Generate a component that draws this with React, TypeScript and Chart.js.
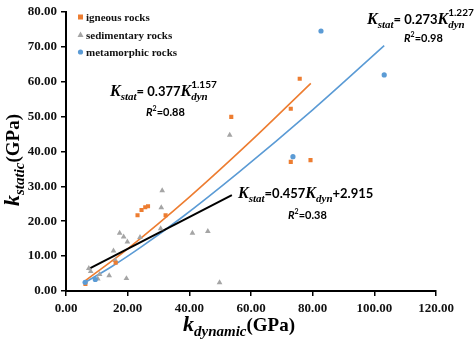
import React, { useEffect, useRef } from "react";
import { Chart, registerables } from "chart.js";

Chart.register(...registerables);

// Measured bulk moduli (GPa): dynamic on x, static on y
const igneousX = [6.3, 16.1, 23.2, 24.5, 25.7, 26.6, 32.3, 53.6, 72.9, 72.9, 75.8, 79.3];
const igneousY = [2.0, 8.1, 21.7, 23.2, 24.0, 24.3, 21.7, 49.9, 52.2, 37.0, 60.8, 37.5];

const sedimentaryX = [7.4, 8.0, 10.3, 10.9, 14.0, 15.4, 16.0, 17.4, 18.7, 19.9, 19.6, 24.0, 30.7, 30.9, 31.2, 41.0, 46.0, 49.8, 53.1];
const sedimentaryY = [6.5, 5.6, 3.5, 4.8, 4.4, 11.5, 8.8, 16.6, 15.5, 14.1, 3.6, 15.4, 17.9, 23.9, 28.8, 16.6, 17.1, 2.4, 44.7];

const metamorphicX = [6.2, 9.5, 73.6, 82.7, 103.2];
const metamorphicY = [2.5, 3.3, 38.5, 74.5, 61.9];

// Fitted trend lines
const igneousFitX = [6.3, 20, 40, 60, 79.4];
const igneousFitY = [3.0, 12.1, 26.9, 43.0, 59.5];
const metamorphicFitX = [6, 15, 25, 37, 56, 80, 103.2];
const metamorphicFitY = [2.4, 7.1, 13.0, 20.7, 34.0, 51.9, 70.3];
const sedimentaryFitX = [7.1, 53.8];
const sedimentaryFitY = [6.2, 27.5];

const xTicks = [0, 20, 40, 60, 80, 100, 120];
const yTicks = [0, 10, 20, 30, 40, 50, 60, 70, 80];

const ORANGE = "#ED7D31";
const GRAY = "#A5A5A5";
const BLUE = "#5B9BD5";

const pts = (xs: number[], ys: number[]) => xs.map((x, i) => ({ x, y: ys[i] }));

type Seg = { t: string; f: string; dy?: number; stack?: boolean };

function drawRich(ctx: CanvasRenderingContext2D, x: number, y: number, segs: Seg[]) {
  let cx = x;
  let pending = 0;
  for (const s of segs) {
    ctx.font = s.f;
    ctx.fillText(s.t, cx, y + (s.dy || 0));
    const w = ctx.measureText(s.t).width;
    if (s.stack) {
      pending = Math.max(pending, w);
    } else {
      cx += Math.max(pending, w);
      pending = 0;
    }
  }
  return cx - x;
}

const SERIF = "'Liberation Serif', serif";
const SANS = "Lato, 'Open Sans', sans-serif";
const KFONT = `italic bold 16px ${SERIF}`;
const KSUB = `italic bold 11px ${SERIF}`;
const NUM = `bold 13px ${SANS}`;
const SUP = `bold 10px ${SANS}`;
const RFONT = `italic bold 11px ${SANS}`;
const R2FONT = `bold 7px ${SANS}`;
const RNUM = `bold 11px ${SANS}`;

const annotations = {
  id: "annotations",
  afterDraw(chart: Chart) {
    const ctx = chart.ctx;
    ctx.save();
    ctx.fillStyle = "#000";
    ctx.textBaseline = "alphabetic";
    ctx.textAlign = "left";

    // legend
    const legend = [
      { label: "igneous rocks", color: ORANGE, shape: "rect" },
      { label: "sedimentary rocks", color: GRAY, shape: "tri" },
      { label: "metamorphic rocks", color: BLUE, shape: "circle" },
    ];
    legend.forEach((it, i) => {
      const cy = 17 + i * 17.5;
      ctx.fillStyle = it.color;
      if (it.shape === "rect") ctx.fillRect(78, cy - 2.5, 5, 5);
      else if (it.shape === "tri") {
        ctx.beginPath();
        ctx.moveTo(80.5, cy - 3);
        ctx.lineTo(83.5, cy + 2.5);
        ctx.lineTo(77.5, cy + 2.5);
        ctx.closePath();
        ctx.fill();
      } else {
        ctx.beginPath();
        ctx.arc(80.5, cy, 2.6, 0, Math.PI * 2);
        ctx.fill();
      }
      ctx.fillStyle = "#111";
      ctx.font = `bold 11px ${SERIF}`;
      ctx.fillText(it.label, 86, cy + 4);
    });

    // fit equations
    ctx.fillStyle = "#000";
    drawRich(ctx, 110, 96, [
      { t: "K", f: KFONT },
      { t: "stat", f: KSUB, dy: 4 },
      { t: "= 0.377", f: NUM },
      { t: "K", f: KFONT },
      { t: "1.157", f: SUP, dy: -8, stack: true },
      { t: "dyn", f: KSUB, dy: 4 },
    ]);
    drawRich(ctx, 146, 116, [
      { t: "R", f: RFONT },
      { t: "2", f: R2FONT, dy: -5 },
      { t: "=0.88", f: RNUM },
    ]);

    drawRich(ctx, 367, 24, [
      { t: "K", f: KFONT },
      { t: "stat", f: KSUB, dy: 4 },
      { t: "= 0.273", f: NUM },
      { t: "K", f: KFONT },
      { t: "1.227", f: SUP, dy: -8, stack: true },
      { t: "dyn", f: KSUB, dy: 4 },
    ]);
    drawRich(ctx, 404, 42, [
      { t: "R", f: RFONT },
      { t: "2", f: R2FONT, dy: -5 },
      { t: "=0.98", f: RNUM },
    ]);

    drawRich(ctx, 238, 198, [
      { t: "K", f: KFONT },
      { t: "stat", f: KSUB, dy: 4 },
      { t: "=0.457", f: NUM },
      { t: "K", f: KFONT },
      { t: "dyn", f: KSUB, dy: 4 },
      { t: "+2.915", f: NUM },
    ]);
    drawRich(ctx, 288, 219, [
      { t: "R", f: RFONT },
      { t: "2", f: R2FONT, dy: -5 },
      { t: "=0.38", f: RNUM },
    ]);

    // axis titles
    drawRich(ctx, 183, 331, [
      { t: "k", f: `italic bold 22px ${SERIF}` },
      { t: "dynamic", f: `italic bold 15px ${SERIF}`, dy: 5 },
      { t: "(GPa)", f: `bold 19px ${SERIF}` },
    ]);
    ctx.translate(19, 206);
    ctx.rotate(-Math.PI / 2);
    drawRich(ctx, 0, 0, [
      { t: "k", f: `italic bold 22px ${SERIF}` },
      { t: "static", f: `italic bold 15px ${SERIF}`, dy: 5 },
      { t: "(GPa)", f: `bold 19px ${SERIF}` },
    ]);
    ctx.restore();
  },
};

export default function App() {
  const ref = useRef<HTMLCanvasElement>(null);

  useEffect(() => {
    document.body.style.margin = "0";
    const canvas = ref.current!;
    const tickFont = { family: "'Liberation Serif', serif", weight: "bold" as const, size: 13 };
    const chart = new Chart(canvas, {
      type: "scatter",
      data: {
        datasets: [
          {
            label: "igneous rocks",
            data: pts(igneousX, igneousY),
            pointStyle: "rect",
            pointRadius: 2.9,
            backgroundColor: ORANGE,
            borderWidth: 0,
            order: 1,
          },
          {
            label: "sedimentary rocks",
            data: pts(sedimentaryX, sedimentaryY),
            pointStyle: "triangle",
            pointRadius: 3.3,
            backgroundColor: GRAY,
            borderWidth: 0,
            order: 2,
          },
          {
            label: "metamorphic rocks",
            data: pts(metamorphicX, metamorphicY),
            pointStyle: "circle",
            pointRadius: 2.6,
            backgroundColor: BLUE,
            borderWidth: 0,
            order: 0,
          },
          {
            label: "igneous fit",
            data: pts(igneousFitX, igneousFitY),
            showLine: true,
            pointRadius: 0,
            borderColor: ORANGE,
            borderWidth: 1.6,
            cubicInterpolationMode: "monotone",
            order: 5,
          },
          {
            label: "metamorphic fit",
            data: pts(metamorphicFitX, metamorphicFitY),
            showLine: true,
            pointRadius: 0,
            borderColor: BLUE,
            borderWidth: 1.6,
            cubicInterpolationMode: "monotone",
            order: 6,
          },
          {
            label: "sedimentary fit",
            data: pts(sedimentaryFitX, sedimentaryFitY),
            showLine: true,
            pointRadius: 0,
            borderColor: "#000",
            borderWidth: 2,
            order: 4,
          },
        ],
      },
      options: {
        responsive: false,
        animation: false,
        devicePixelRatio: 1,
        layout: { padding: { left: 0, right: 38, top: 6, bottom: 0 } },
        plugins: { legend: { display: false }, tooltip: { enabled: false } },
        scales: {
          x: {
            type: "linear",
            min: 0,
            max: 120,
            afterBuildTicks: (s: any) => {
              s.ticks = xTicks.map((v) => ({ value: v }));
            },
            afterFit: (s: any) => {
              s.height = 54;
            },
            ticks: {
              font: tickFont,
              color: "#111",
              padding: 5,
              maxRotation: 0,
              callback: (v: any) => Number(v).toFixed(2),
            },
            grid: { drawOnChartArea: false, drawTicks: true, tickLength: 5, color: "#000", lineWidth: 1.5 },
            border: { color: "#000", width: 2 },
          },
          y: {
            type: "linear",
            min: 0,
            max: 80,
            afterBuildTicks: (s: any) => {
              s.ticks = yTicks.map((v) => ({ value: v }));
            },
            afterFit: (s: any) => {
              s.width = 66;
            },
            ticks: {
              font: tickFont,
              color: "#111",
              padding: 4,
              callback: (v: any) => Number(v).toFixed(2),
            },
            grid: { drawOnChartArea: false, drawTicks: true, tickLength: 5, color: "#000", lineWidth: 1.5 },
            border: { color: "#000", width: 2 },
          },
        },
      },
      plugins: [annotations],
    });
    return () => chart.destroy();
  }, []);

  return (
    <div style={{ width: 474, height: 345, background: "#fff" }}>
      <canvas ref={ref} width={474} height={345} style={{ display: "block" }} />
    </div>
  );
}
